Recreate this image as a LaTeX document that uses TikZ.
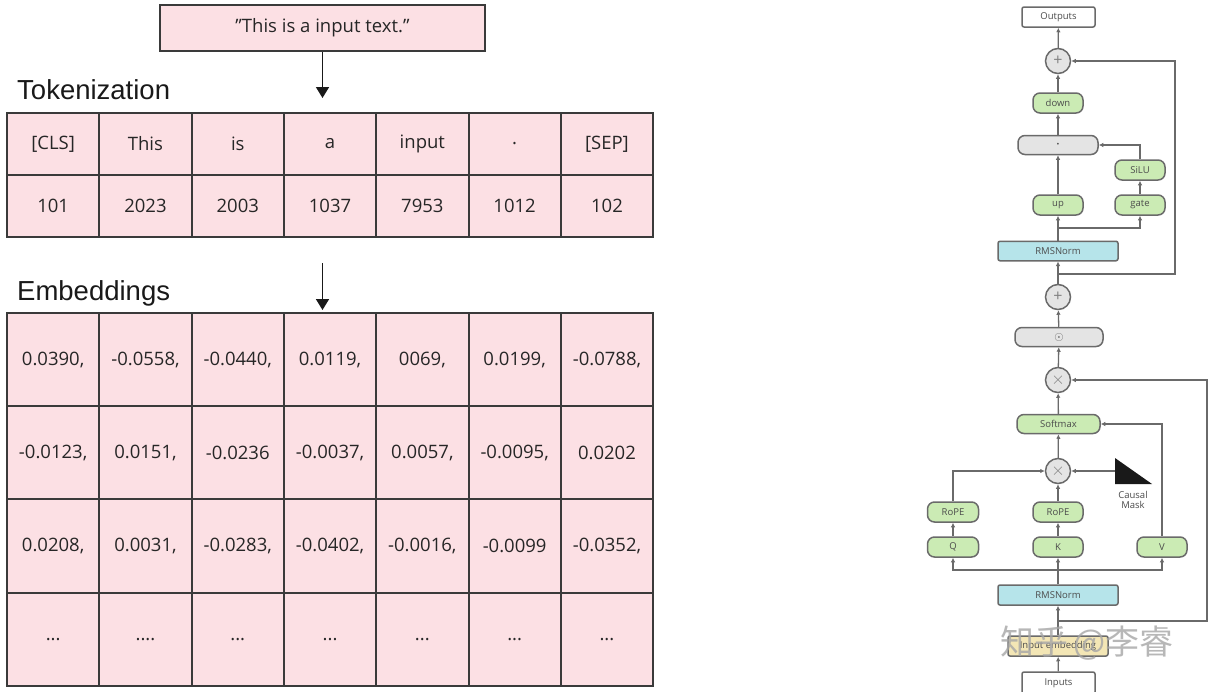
\documentclass[tikz,border=0pt]{standalone}
\usepackage{fontspec}
\setmainfont{Open Sans}
\newfontfamily\headfont{Liberation Sans}
\newfontfamily\cjk{Noto Sans CJK SC}
\usetikzlibrary{arrows.meta,calc}
\definecolor{pinkc}{HTML}{FCE0E4}
\definecolor{tline}{HTML}{3A3A3A}
\definecolor{greenc}{HTML}{CBEBB4}
\definecolor{cyanc}{HTML}{B6E4EA}
\definecolor{grayc}{HTML}{E4E4E4}
\definecolor{yelc}{HTML}{F3E6B5}
\definecolor{bline}{HTML}{6A6A6A}
\begin{document}
\begin{tikzpicture}[x=1pt,y=-1pt,
  cell/.style={draw=tline,line width=2pt,fill=pinkc,inner sep=0pt,text=black!85,
    font=\fontsize{18.5}{20}\selectfont},
  tokcell/.style={cell,minimum width=92.3pt,minimum height=62pt},
  embcell/.style={cell,minimum width=92.3pt,minimum height=93.25pt},
  head/.style={anchor=base west,inner sep=0pt,font=\headfont\fontsize{27.5}{30}\selectfont,text=black!90},
  bigarrow/.style={draw=black!90,line width=1.6pt,-{Triangle[width=13pt,length=11pt]}},
  blk/.style={draw=bline,line width=1.5pt,inner sep=0pt,text=black!70,font=\fontsize{9.5}{10}\selectfont},
  sq/.style={blk,rounded corners=2pt,fill=white},
  pill/.style={blk,rounded corners=7pt,fill=greenc,minimum width=50pt,minimum height=20pt},
  gpill/.style={blk,rounded corners=7pt,fill=grayc,minimum height=19pt,font=\fontsize{16}{16}\selectfont},
  norm/.style={blk,rounded corners=2pt,fill=cyanc,minimum width=120pt,minimum height=19.5pt},
  op/.style={blk,circle,fill=grayc,minimum size=25pt,text=black!50,font=\fontsize{16}{16}\selectfont},
  conn/.style={draw=bline,line width=1.3pt,-{Latex[length=4.5pt,width=4.5pt]}},
  line/.style={draw=bline,line width=1.3pt}
]
\useasboundingbox (0,0) rectangle (1213,691);
\fill[white] (0,0) rectangle (1213,691);

% ---------------- left part ----------------
\node[draw=tline,line width=2pt,fill=pinkc,minimum width=325pt,minimum height=46pt,
      inner sep=0pt,font=\fontsize{18.5}{20}\selectfont,text=black!85] (txt) at (322.5,28) {\symbol{34}This is a input text.\symbol{34}};
\coordinate (a1end) at (322.5,98);
\draw[bigarrow] (txt.south) -- (a1end);
\node[head] (tokhead) at (17,99) {Tokenization};

\foreach \w [count=\i] in {{[CLS]},{This},{is},{a},{input},{.},{[SEP]}}{
  \node[tokcell] (tk-\i) at ({7+92.3*(\i-0.5)},144) {\w};
}
\foreach \w [count=\i] in {101,2023,2003,1037,7953,1012,102}{
  \node[tokcell] (id-\i) at ({7+92.3*(\i-0.5)},206) {\w};
}

\coordinate (a2start) at (322.5,263);
\coordinate (a2end) at (322.5,310);
\draw[bigarrow] (a2start) -- (a2end);
\node[head] (embhead) at (17,300) {Embeddings};

\foreach \w [count=\i] in {{0.0390,},{-0.0558,},{-0.0440,},{0.0119,},{0069,},{0.0199,},{-0.0788,}}{
  \node[embcell] (e1-\i) at ({7+92.3*(\i-0.5)},359.6) {\w};
}
\foreach \w [count=\i] in {{-0.0123,},{0.0151,},{-0.0236},{-0.0037,},{0.0057,},{-0.0095,},{0.0202}}{
  \node[embcell] (e2-\i) at ({7+92.3*(\i-0.5)},452.9) {\w};
}
\foreach \w [count=\i] in {{0.0208,},{0.0031,},{-0.0283,},{-0.0402,},{-0.0016,},{-0.0099},{-0.0352,}}{
  \node[embcell] (e3-\i) at ({7+92.3*(\i-0.5)},546.1) {\w};
}
\foreach \i in {1,2,3,4,5,6,7}{
  \node[embcell] (e4-\i) at ({7+92.3*(\i-0.5)},639.4) {\ifnum\i=2 ....\else ...\fi};
}

% ---------------- right part ----------------
\node[sq,minimum width=73pt,minimum height=20pt] (out) at (1058.5,17) {Outputs};
\node[op] (add1) at (1058,61) {+};
\node[pill] (down) at (1058,103) {down};
\node[gpill,minimum width=80pt] (mul) at (1058,145) {$\cdot$};
\node[pill] (silu) at (1140,170) {SiLU};
\node[pill] (gate) at (1140,205) {gate};
\node[pill] (up) at (1058,205) {up};
\node[norm] (rms1) at (1058,251) {RMSNorm};
\node[op] (add2) at (1058,297) {+};
\node[gpill,minimum width=88pt,font=\fontsize{12}{12}\selectfont] (odot) at (1059,337) {$\odot$};
\node[op] (x1) at (1058,380) {$\times$};
\node[pill,minimum width=83pt,minimum height=19pt] (softmax) at (1058.5,424) {Softmax};
\node[op] (x2) at (1058,471) {$\times$};
\fill[black!90] (1115,458) -- (1115,484) -- (1152,484) -- cycle;
\coordinate (maskl) at (1115,471);
\node[align=center,inner sep=0pt,text=black!70,font=\fontsize{9.5}{10.5}\selectfont] (causal) at (1133,500) {Causal\\Mask};
\node[pill,minimum width=51pt] (ropeq) at (953,512) {RoPE};
\node[pill] (ropek) at (1058,512) {RoPE};
\node[pill,minimum width=51pt] (q) at (953,547) {Q};
\node[pill] (k) at (1058,547) {K};
\node[pill] (v) at (1162,547) {V};
\node[norm,minimum height=20pt] (rms2) at (1058,595) {RMSNorm};
\node[sq,fill=yelc,minimum width=100pt,minimum height=20pt] (emb) at (1058,646) {Input embedding};
\node[sq,minimum width=73pt,minimum height=22pt] (inp) at (1058.5,683) {Inputs};

% connectors
\draw[conn] (add1) -- (out);
\draw[conn] (down) -- (add1);
\draw[conn] (mul) -- (down);
\draw[conn] (up) -- (mul);
\draw[conn] (gate) -- (silu);
\draw[conn] (silu.north) |- (mul.east);
\draw[conn] (rms1) -- (up);
\coordinate (s1) at (1058,228);
\draw[conn] (s1) -| (gate.south);
\draw[conn] (add2) -- (rms1);
\coordinate (r1) at (1058,274);
\coordinate (rr1) at (1175,274);
\draw[conn] (r1) -- (rr1) |- (add1.east);
\draw[conn] (odot) -- (add2);
\draw[conn] (x1) -- (odot);
\draw[conn] (softmax) -- (x1);
\draw[conn] (x2) -- (softmax);
\draw[conn] (v.north) |- (softmax.east);
\draw[conn] (ropeq.north) |- (x2.west);
\draw[conn] (maskl) -- (x2.east);
\draw[conn] (ropek) -- (x2);
\draw[conn] (q) -- (ropeq);
\draw[conn] (k) -- (ropek);
\draw[conn] (rms2) -- (k);
\coordinate (s2) at (1058,570);
\draw[conn] (s2) -| (q.south);
\draw[conn] (s2) -| (v.south);
\coordinate (r2) at (1058,621);
\coordinate (rr2) at (1207,621);
\draw[conn] (r2) -- (rr2) |- (x1.east);
\draw[conn] (emb) -- (rms2);
\draw[conn] (inp) -- (emb);

% watermark
\node[inner sep=0pt,text=black!35,opacity=0.8,font=\cjk\fontsize{34}{36}\selectfont] (wm) at (1087,643) {知乎\,@李睿};
\end{tikzpicture}
\end{document}
